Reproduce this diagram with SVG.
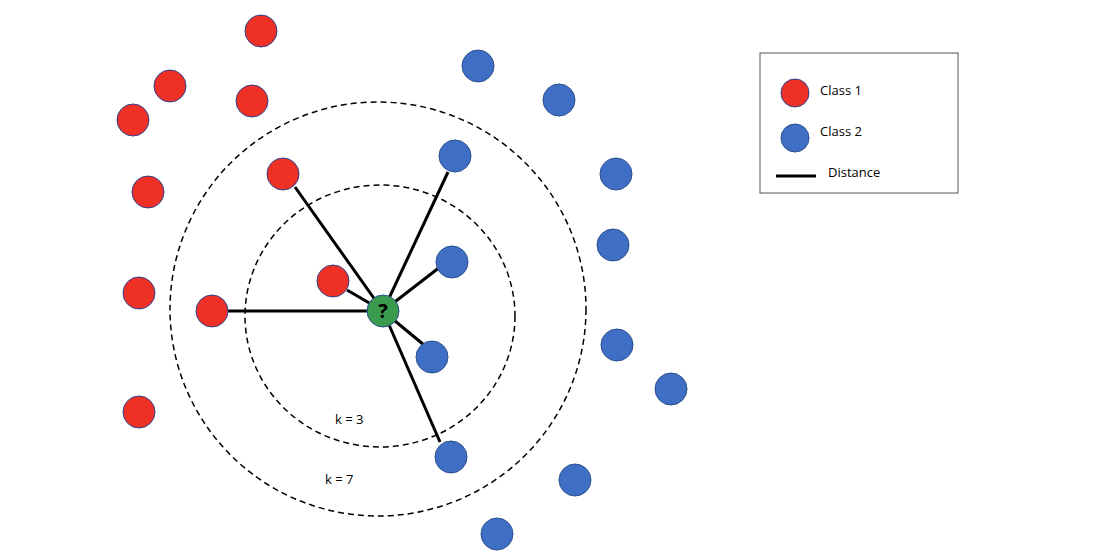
<svg xmlns="http://www.w3.org/2000/svg" width="1112" height="558" viewBox="0 0 1112 558">
<style>
.r{fill:#ee3124;stroke:#2e3f8f;stroke-width:1}
.b{fill:#3f6fc4;stroke:#2b4f8f;stroke-width:1}
.d{fill:none;stroke:#000;stroke-width:1.5;stroke-dasharray:6 4}
.l{stroke:#000;stroke-width:3}
text{font-family:"Open Sans","Liberation Sans",sans-serif;font-size:13px;fill:#000}
text.q{font-size:20px;font-weight:bold}
</style>
<rect width="1112" height="558" fill="#fff"/>
<g id="rings">
<ellipse class="d" cx="378" cy="309" rx="208" ry="207"/>
<ellipse class="d" cx="380" cy="316" rx="135" ry="131"/>
</g>
<g id="connectors">
<line class="l" x1="383" y1="311" x2="228" y2="311"/>
<line class="l" x1="383" y1="311" x2="347" y2="290"/>
<line class="l" x1="383" y1="311" x2="295" y2="187"/>
<line class="l" x1="383" y1="311" x2="448" y2="172"/>
<line class="l" x1="383" y1="311" x2="440" y2="267"/>
<line class="l" x1="383" y1="311" x2="424" y2="345"/>
<line class="l" x1="383" y1="311" x2="440" y2="442"/>
</g>
<g id="red">
<circle class="r" cx="261" cy="31" r="16"/>
<circle class="r" cx="170" cy="86" r="16"/>
<circle class="r" cx="133" cy="120" r="16"/>
<circle class="r" cx="252" cy="101" r="16"/>
<circle class="r" cx="148" cy="192" r="16"/>
<circle class="r" cx="283" cy="174" r="16"/>
<circle class="r" cx="139" cy="293" r="16"/>
<circle class="r" cx="212" cy="311" r="16"/>
<circle class="r" cx="333" cy="281" r="16"/>
<circle class="r" cx="139" cy="412" r="16"/>
</g>
<g id="blue">
<circle class="b" cx="478" cy="66" r="16"/>
<circle class="b" cx="559" cy="100" r="16"/>
<circle class="b" cx="455" cy="156" r="16"/>
<circle class="b" cx="616" cy="174" r="16"/>
<circle class="b" cx="613" cy="245" r="16"/>
<circle class="b" cx="452" cy="262" r="16"/>
<circle class="b" cx="617" cy="345" r="16"/>
<circle class="b" cx="432" cy="357" r="16"/>
<circle class="b" cx="671" cy="389" r="16"/>
<circle class="b" cx="451" cy="457" r="16"/>
<circle class="b" cx="575" cy="480" r="16"/>
<circle class="b" cx="497" cy="534" r="16"/>
</g>
<g id="query">
<circle cx="383" cy="311" r="16" fill="#3a9a4e" stroke="#2b4f8f"/>
<text class="q" x="383" y="318" text-anchor="middle">?</text>
</g>
<g id="labels">
<text x="335" y="424">k = 3</text>
<text x="325" y="484">k = 7</text>
</g>
<g id="legend">
<rect x="760" y="53" width="198" height="140" fill="#fff" stroke="#555"/>
<circle class="r" cx="795" cy="93" r="14"/>
<text x="820" y="95">Class 1</text>
<circle class="b" cx="795" cy="138" r="14"/>
<text x="820" y="136">Class 2</text>
<line class="l" x1="776" y1="176" x2="816" y2="176"/>
<text x="828" y="177">Distance</text>
</g>
</svg>
